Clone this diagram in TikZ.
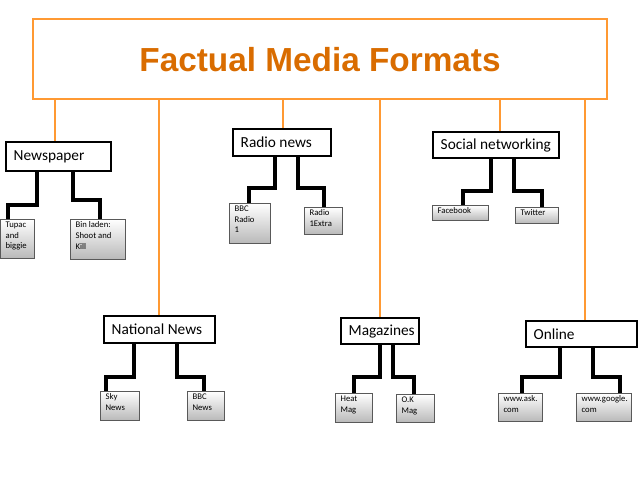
\documentclass[tikz,border=0pt]{standalone}
\usepackage{fontspec}
\setmainfont{Carlito}
\newfontfamily\titlefont{Liberation Sans}
\begin{document}
\begin{tikzpicture}[x=0.75pt,y=-0.75pt,
  big/.style={draw=black,line width=1.6pt,fill=white,inner sep=0pt,font=\fontsize{11.5}{13}\selectfont,anchor=north west},
  small/.style={draw=gray!70!black,line width=0.6pt,top color=white,bottom color=gray!55,inner sep=0pt,anchor=north west,font=\fontsize{6.5}{8}\selectfont,align=left},
  conn/.style={line width=2.4pt,black},
  oline/.style={line width=1.8pt,orange!80!white}]
\useasboundingbox (0,0) rectangle (638,478);
\newcommand{\bx}[6]{\node[#1,minimum width={(#4)*0.75pt},minimum height={(#5)*0.75pt}] (#6) at (#2,#3) {};}
\node[draw=orange!80!white,line width=1.2pt,minimum width={574*0.75pt},minimum height={80*0.75pt},anchor=north west,inner sep=0pt] (title) at (32,18) {};
\node[font=\titlefont\bfseries\fontsize{25}{28}\selectfont,text=orange!85!black] at (320,60) {Factual Media Formats};
% big boxes
\bx{big}{5}{141}{105}{29}{np}
\bx{big}{232}{128}{98}{27}{rn}
\bx{big}{432}{131}{126}{26}{sn}
\bx{big}{103}{315}{111}{27}{nn}
\bx{big}{340}{317}{78}{26}{mg}
\bx{big}{525}{320}{111}{26}{ol}
\foreach \n/\t in {np/Newspaper,rn/Radio news,sn/Social networking,nn/National News,mg/Magazines,ol/Online}
  \node[font=\fontsize{11.5}{13}\selectfont,anchor=west] at ([xshift=3pt]\n.west) {\t};
% orange lines
\foreach \xx/\n in {55/np,159/nn,283/rn,380/mg,500/sn,585/ol}
  \draw[oline] (title.south -| \xx,0) -- (\n.north -| \xx,0);
% small boxes
\bx{small}{0}{219}{34}{39}{tp}
\bx{small}{70}{219}{55}{40}{bl}
\bx{small}{229}{203}{41}{40}{br}
\bx{small}{304}{207}{38}{27}{re}
\bx{small}{432}{205}{56}{15}{fb}
\bx{small}{515}{207}{43}{16}{tw}
\bx{small}{100}{391}{39}{29}{sk}
\bx{small}{187}{391}{37}{29}{bn}
\bx{small}{335}{393}{37}{29}{hm}
\bx{small}{396}{394}{38}{28}{ok}
\bx{small}{498}{393}{44}{28}{ak}
\bx{small}{576}{393}{55}{28}{gg}
\foreach \n/\t in {tp/{Tupac\\and\\biggie},bl/{Bin laden:\\Shoot and\\Kill},br/{BBC\\Radio\\1},re/{Radio\\1Extra},fb/{Facebook},tw/{Twitter},sk/{Sky\\News},bn/{BBC\\News},hm/{Heat\\Mag},ok/{O.K\\Mag},ak/{www.ask.\\com},gg/{www.google.\\com}}
  \node[font=\fontsize{6.5}{8}\selectfont,align=left,anchor=north west,inner sep=0pt] at ([xshift=4pt,yshift=-2pt]\n.north west) {\t};
\node[font=\fontsize{6.5}{8}\selectfont,anchor=east,inner sep=0pt] at ([xshift=-6pt]tw.east) {};
% connectors
\newcommand{\elbow}[5]{\draw[conn] (#1.south -| #2,0) -- (#2,#5) -| (#3.north -| #4,0);}
\elbow{np}{37}{tp}{8}{205}
\elbow{np}{73}{bl}{100}{200}
\elbow{rn}{275}{br}{249}{188}
\elbow{rn}{298}{re}{324}{188}
\elbow{sn}{491}{fb}{463}{191}
\elbow{sn}{514}{tw}{542}{191}
\elbow{nn}{134}{sk}{106}{377}
\elbow{nn}{177}{bn}{204}{377}
\elbow{mg}{380}{hm}{354}{377}
\elbow{mg}{393}{ok}{414}{377}
\elbow{ol}{560}{ak}{522}{377}
\elbow{ol}{593}{gg}{620}{377}
\end{tikzpicture}
\end{document}
